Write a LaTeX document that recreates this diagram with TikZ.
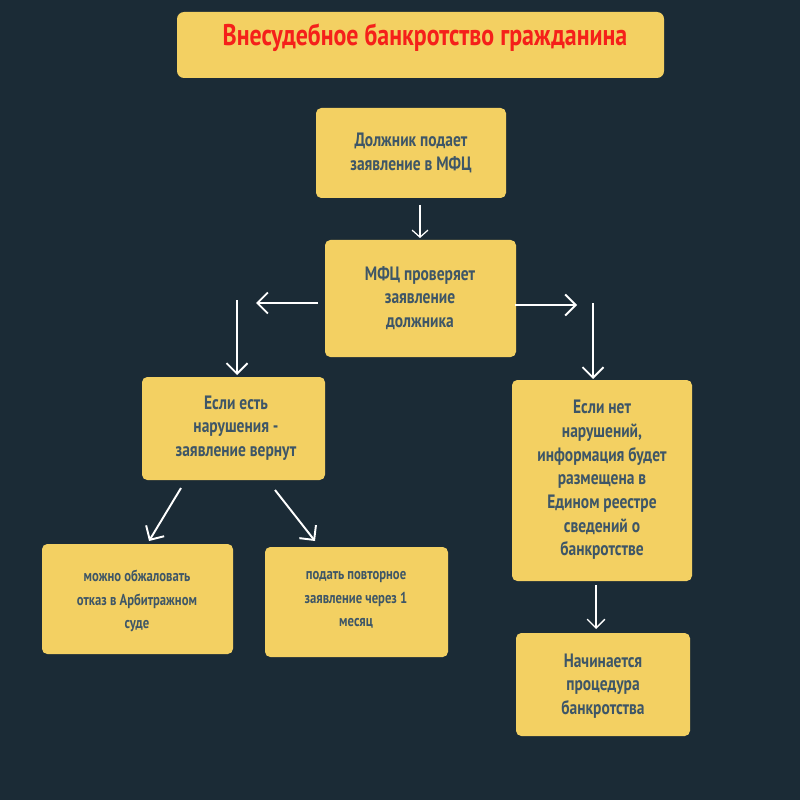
\documentclass[tikz,border=0pt]{standalone}
\usepackage{fontspec}
\setmainfont{PT Sans}[FakeStretch=0.8]
\usetikzlibrary{arrows.meta}
\definecolor{bgdark}{HTML}{1B2B36}
\definecolor{boxyellow}{HTML}{F3D062}
\definecolor{boxtext}{HTML}{3E5667}
\definecolor{titlered}{HTML}{F5201A}
\tikzset{
  stepbox/.style={fill=boxyellow,rounded corners=3pt,align=center,text=boxtext,font=\bfseries\fontsize{11}{13.5}\selectfont},
  smallbox/.style={stepbox,font=\bfseries\fontsize{9}{13.5}\selectfont},
  flow/.style={white,line width=1.1pt,-{Straight Barb[length=6pt,width=12pt]}}
}
\begin{document}
\begin{tikzpicture}[x=0.02cm,y=-0.02cm]
\fill[bgdark] (0,0) rectangle (800,800);
\useasboundingbox (0,0) rectangle (800,800);

% boxes
\fill[boxyellow,rounded corners=4pt] (177,12) rectangle (664,78);
\node[text=titlered,font=\bfseries\fontsize{17}{20}\selectfont] (title) at (425,38) {Внесудебное банкротство гражданина};

\fill[boxyellow,rounded corners=3pt] (316,108) rectangle (506,198);
\node[stepbox] (debtor) at (411,153) {Должник подает\\заявление в МФЦ};

\fill[boxyellow,rounded corners=3pt] (325,240) rectangle (516,357);
\node[stepbox] (check) at (420,298) {МФЦ проверяет\\заявление\\должника};

\fill[boxyellow,rounded corners=3pt] (142,377) rectangle (325,480);
\node[stepbox] (bad) at (236,428) {Если есть\\нарушения -\\заявление вернут};

\fill[boxyellow,rounded corners=3pt] (512,380) rectangle (692,581);
\node[stepbox] (good) at (602,480) {Если нет\\нарушений,\\информация будет\\размещена в\\Едином реестре\\сведений о\\банкротстве};

\fill[boxyellow,rounded corners=3pt] (42,544) rectangle (233,654);
\node[smallbox] (appeal) at (137,601) {можно обжаловать\\отказ в Арбитражном\\суде};

\fill[boxyellow,rounded corners=3pt] (265,547) rectangle (448,657);
\node[smallbox] (again) at (356,600) {подать повторное\\заявление через 1\\месяц};

\fill[boxyellow,rounded corners=3pt] (516,633) rectangle (690,736);
\node[stepbox] (start) at (603,686) {Начинается\\процедура\\банкротства};

% arrows
\coordinate (a1) at (420,205); \coordinate (a2) at (420,238);
\draw[flow,line width=0.7pt,-{Straight Barb[length=4pt,width=9pt]}] (a1) -- (a2);
\coordinate (l1) at (318,303); \coordinate (l2) at (256,303);
\draw[flow] (l1) -- (l2);
\coordinate (l3) at (237,300); \coordinate (l4) at (237,375);
\draw[flow] (l3) -- (l4);
\coordinate (r1) at (515,305); \coordinate (r2) at (577,305);
\draw[flow] (r1) -- (r2);
\coordinate (r3) at (593,303); \coordinate (r4) at (593,379);
\draw[flow] (r3) -- (r4);
\coordinate (b1) at (181,488); \coordinate (b2) at (149,541);
\draw[flow] (b1) -- (b2);
\coordinate (b3) at (275,490); \coordinate (b4) at (315,541);
\draw[flow] (b3) -- (b4);
\coordinate (g1) at (596,585); \coordinate (g2) at (596,629);
\draw[flow,line width=0.8pt,-{Straight Barb[length=5pt,width=10pt]}] (g1) -- (g2);
\end{tikzpicture}
\end{document}
